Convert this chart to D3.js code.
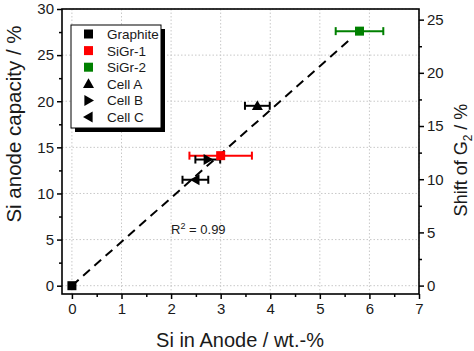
<!DOCTYPE html>
<html>
<head>
<meta charset="utf-8">
<script src="https://cdn.jsdelivr.net/npm/d3@7"></script>
<style>
  body { margin: 0; background: #fff; }
  svg { font-family: "Liberation Sans", Arial, sans-serif; }
</style>
</head>
<body>
<div id="chart"></div>
<script>
// donnees
const xTicks = [0, 1, 2, 3, 4, 5, 6, 7];
const yLeftTicks = [0, 5, 10, 15, 20, 25, 30];
const yRightTicks = [0, 5, 10, 15, 20, 25];

// echantillons (axe gauche : capacite Si)
const samples = ["Graphite", "SiGr-1", "SiGr-2"];
const sampleX = [0, 3.0, 5.8];
const sampleXErr = [0, 0.63, 0.48];
const sampleY = [0, 14.1, 27.6];
const sampleColors = ["#000000", "#ff0000", "#008000"];

// cellules (axe droit : decalage de G2)
const cells = ["Cell A", "Cell B", "Cell C"];
const cellX = [3.74, 2.74, 2.49];
const cellXErr = [0.25, 0.25, 0.26];
const cellY = [16.9, 11.85, 9.95];
const cellSymbols = ["up", "right", "left"];

// droite de regression
const fitX = [0, 5.6];
const fitSlope = 4.76;
const r2 = "0.99";

const W = 474, H = 351;
const margin = { top: 9, right: 55, bottom: 57, left: 62 };
const width = W - margin.left - margin.right;
const height = H - margin.top - margin.bottom;

const svg = d3.select("#chart").append("svg")
    .attr("width", W)
    .attr("height", H);

const g = svg.append("g")
    .attr("transform", "translate(" + margin.left + "," + margin.top + ")");

const echelleX = d3.scaleLinear().domain([-0.2, 7]).range([0, width]);
const echelleY = d3.scaleLinear().domain([-0.9, 30]).range([height, 0]);
const echelleY2 = d3.scaleLinear().domain([-0.79, 26.0]).range([height, 0]);

// grille pointillee
g.append("g").selectAll("line").data(xTicks).join("line")
    .attr("x1", d => echelleX(d)).attr("x2", d => echelleX(d))
    .attr("y1", 0).attr("y2", height)
    .attr("stroke", "#c8c8c8").attr("stroke-width", 1)
    .attr("stroke-dasharray", "1.5,2");
g.append("g").selectAll("line").data(yLeftTicks).join("line")
    .attr("x1", 0).attr("x2", width)
    .attr("y1", d => echelleY(d)).attr("y2", d => echelleY(d))
    .attr("stroke", "#c8c8c8").attr("stroke-width", 1)
    .attr("stroke-dasharray", "1.5,2");

// axes
function styleAxis(sel) {
    sel.select(".domain").remove();
    sel.selectAll(".tick line").attr("stroke", "#000").attr("stroke-width", 1.5);
    sel.selectAll("text").attr("font-size", "15px").attr("fill", "#1a1a1a");
}

const minorX = d3.range(-0, 7.01, 0.5).filter(d => d % 1 !== 0);
const minorY = d3.range(2.5, 30, 5);
const minorY2 = d3.range(2.5, 26, 5);

g.append("g")
    .attr("transform", "translate(0," + height + ")")
    .call(d3.axisBottom(echelleX).tickValues(xTicks).tickSize(5).tickPadding(4))
    .call(styleAxis);
g.append("g")
    .attr("transform", "translate(0," + height + ")")
    .call(d3.axisBottom(echelleX).tickValues(minorX).tickSize(3).tickFormat(""))
    .call(styleAxis);

g.append("g")
    .call(d3.axisLeft(echelleY).tickValues(yLeftTicks).tickSize(5).tickPadding(3))
    .call(styleAxis);
g.append("g")
    .call(d3.axisLeft(echelleY).tickValues(minorY).tickSize(3).tickFormat(""))
    .call(styleAxis);

g.append("g")
    .attr("transform", "translate(" + width + ",0)")
    .call(d3.axisRight(echelleY2).tickValues(yRightTicks).tickSize(5).tickPadding(3))
    .call(styleAxis);
g.append("g")
    .attr("transform", "translate(" + width + ",0)")
    .call(d3.axisRight(echelleY2).tickValues(minorY2).tickSize(3).tickFormat(""))
    .call(styleAxis);

// cadre
g.append("rect")
    .attr("x", 0).attr("y", 0)
    .attr("width", width).attr("height", height)
    .attr("fill", "none").attr("stroke", "#000").attr("stroke-width", 1.6);

// droite de regression
g.append("line")
    .attr("x1", echelleX(fitX[0])).attr("y1", echelleY(fitX[0] * fitSlope))
    .attr("x2", echelleX(fitX[1])).attr("y2", echelleY(fitX[1] * fitSlope))
    .attr("stroke", "#000").attr("stroke-width", 2)
    .attr("stroke-dasharray", "9,6");

const r2Text = g.append("text")
    .attr("x", echelleX(2.0))
    .attr("y", echelleY(5.6))
    .attr("font-size", "13px").attr("fill", "#1a1a1a");
r2Text.append("tspan").text("R");
r2Text.append("tspan").attr("font-size", "9px").attr("dy", -5).text("2");
r2Text.append("tspan").attr("dy", 5).text(" = " + r2);

// barres d'erreur
function errorBar(x, err, y, color) {
    const eb = g.append("g").attr("stroke", color).attr("stroke-width", 2);
    eb.append("line")
        .attr("x1", echelleX(x - err)).attr("x2", echelleX(x + err))
        .attr("y1", y).attr("y2", y);
    [x - err, x + err].forEach(v => {
        eb.append("line")
            .attr("x1", echelleX(v)).attr("x2", echelleX(v))
            .attr("y1", y - 4).attr("y2", y + 4);
    });
}

function trianglePath(dir, s) {
    if (dir == "up") return `M0,${-s}L${s},${s * 0.75}L${-s},${s * 0.75}Z`;
    if (dir == "right") return `M${s},0L${-s * 0.75},${s}L${-s * 0.75},${-s}Z`;
    return `M${-s},0L${s * 0.75},${s}L${s * 0.75},${-s}Z`;
}

samples.forEach((s, i) => {
    if (sampleXErr[i] > 0) errorBar(sampleX[i], sampleXErr[i], echelleY(sampleY[i]), sampleColors[i]);
});
cells.forEach((c, i) => {
    errorBar(cellX[i], cellXErr[i], echelleY2(cellY[i]), "#000");
});

samples.forEach((s, i) => {
    g.append("rect")
        .attr("x", echelleX(sampleX[i]) - 4.5)
        .attr("y", echelleY(sampleY[i]) - 4.5)
        .attr("width", 9).attr("height", 9)
        .attr("fill", sampleColors[i]);
});
cells.forEach((c, i) => {
    g.append("path")
        .attr("transform", "translate(" + echelleX(cellX[i]) + "," + echelleY2(cellY[i]) + ")")
        .attr("d", trianglePath(cellSymbols[i], 5.5))
        .attr("fill", "#000");
});

// legende
const legend = svg.append("g");
legend.append("rect")
    .attr("x", 75).attr("y", 29).attr("width", 90).attr("height", 103)
    .attr("fill", "#000");
legend.append("rect")
    .attr("x", 71).attr("y", 25).attr("width", 90).attr("height", 103)
    .attr("fill", "#fff").attr("stroke", "#000").attr("stroke-width", 1);

const legendLabels = samples.concat(cells);
legendLabels.forEach((lab, i) => {
    const y = 34 + i * 16.6;
    if (i < 3) {
        legend.append("rect")
            .attr("x", 84).attr("y", y - 4.5)
            .attr("width", 9).attr("height", 9)
            .attr("fill", sampleColors[i]);
    } else {
        legend.append("path")
            .attr("transform", "translate(88.5," + y + ")")
            .attr("d", trianglePath(cellSymbols[i - 3], 5.5))
            .attr("fill", "#000");
    }
    legend.append("text")
        .attr("x", 107).attr("y", y + 5)
        .attr("font-size", "13.5px").attr("fill", "#1a1a1a")
        .text(lab);
});

// titres des axes
svg.append("text")
    .attr("x", 240).attr("y", 347)
    .attr("text-anchor", "middle")
    .attr("font-size", "20px").attr("fill", "#1a1a1a")
    .text("Si in Anode / wt.-%");

svg.append("text")
    .attr("transform", "translate(21,124) rotate(-90)")
    .attr("text-anchor", "middle")
    .attr("font-size", "20.5px").attr("fill", "#1a1a1a")
    .text("Si anode capacity / %");

const rt = svg.append("text")
    .attr("transform", "translate(467,160) rotate(-90)")
    .attr("text-anchor", "middle")
    .attr("font-size", "18px").attr("fill", "#1a1a1a");
rt.append("tspan").text("Shift of G");
rt.append("tspan").attr("font-size", "12px").attr("dy", 5).text("2");
rt.append("tspan").attr("dy", -5).text(" / %");
</script>
</body>
</html>
